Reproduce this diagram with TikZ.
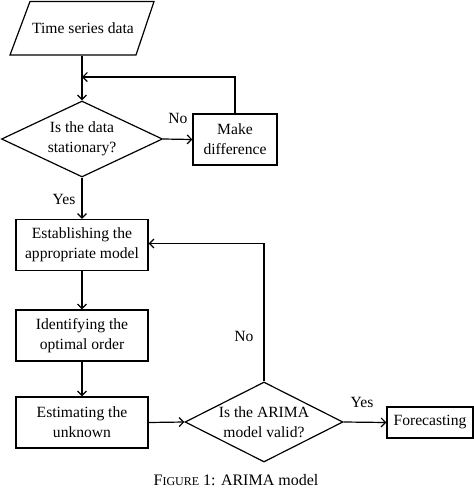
\documentclass[tikz,border=0pt]{standalone}
\usepackage{fontspec}
\setmainfont{Liberation Serif}
\usetikzlibrary{shapes.geometric,arrows.meta}
\begin{document}
\begin{tikzpicture}[x=1pt,y=-1pt,
  line width=1.2pt,
  every node/.style={font=\fontsize{15.6}{20}\selectfont},
  box/.style={draw, rectangle, align=center, inner sep=2pt, minimum width=132pt, minimum height=51pt},
  dec/.style={draw, diamond, inner sep=0pt},
  inside/.style={align=center, inner sep=0pt},
  arr/.style={-{Straight Barb[length=4.5pt,width=9pt]}},
  lbl/.style={inner sep=1pt}]
\useasboundingbox (0,0) rectangle (474,488);
% input parallelogram
\draw (30,1.5) -- (154,1.5) -- (136,55) -- (10,55) -- cycle;
\node[inner sep=0pt, minimum height=53.5pt] (data) at (83,28.25) {Time series data};
\coordinate (j) at (82,77);
\node[dec, minimum width=161pt, minimum height=76pt,
      label={[inside]center:Is the data\\stationary?}] (d1) at (82,139) {};
\node[box, minimum width=84pt] (md) at (235,139.5) {Make\\difference};
\node[box] (est) at (82,245) {Establishing the\\appropriate model};
\node[box] (idf) at (82,335.5) {Identifying the\\optimal order};
\node[box] (estim) at (82,422.5) {Estimating the\\unknown};
\node[dec, minimum width=158pt, minimum height=80pt,
      label={[inside]center:Is the ARIMA\\model valid?}] (d2) at (264,422) {};
\node[box, minimum width=86pt, minimum height=31pt] (fc) at (430,422.5) {Forecasting};
% connectors
\draw[arr] (data.south -| j) -- (d1.north);
\draw[arr] (md.north) |- (j);
\draw[arr] (d1.east) -- (md.west);
\node[lbl] (no1) at (178,118) {No};
\draw[arr] (d1.south) -- (est.north);
\node[lbl] (yes1) at (64,199) {Yes};
\draw[arr] (est.south) -- (idf.north);
\draw[arr] (idf.south) -- (estim.north);
\draw[arr] (estim.east) -- (d2.west);
\draw[arr] (d2.north) |- ([yshift=1.5pt]est.east);
\node[lbl] (no2) at (244,336) {No};
\draw[arr] (d2.east) -- (fc.west);
\node[lbl] (yes2) at (362,402) {Yes};
% caption
\node[anchor=base, inner sep=0pt, font=\fontsize{16}{19}\selectfont] (cap) at (236,485)
  {F{\fontsize{12}{14}\selectfont IGURE} 1: ARIMA model};
\end{tikzpicture}
\end{document}
